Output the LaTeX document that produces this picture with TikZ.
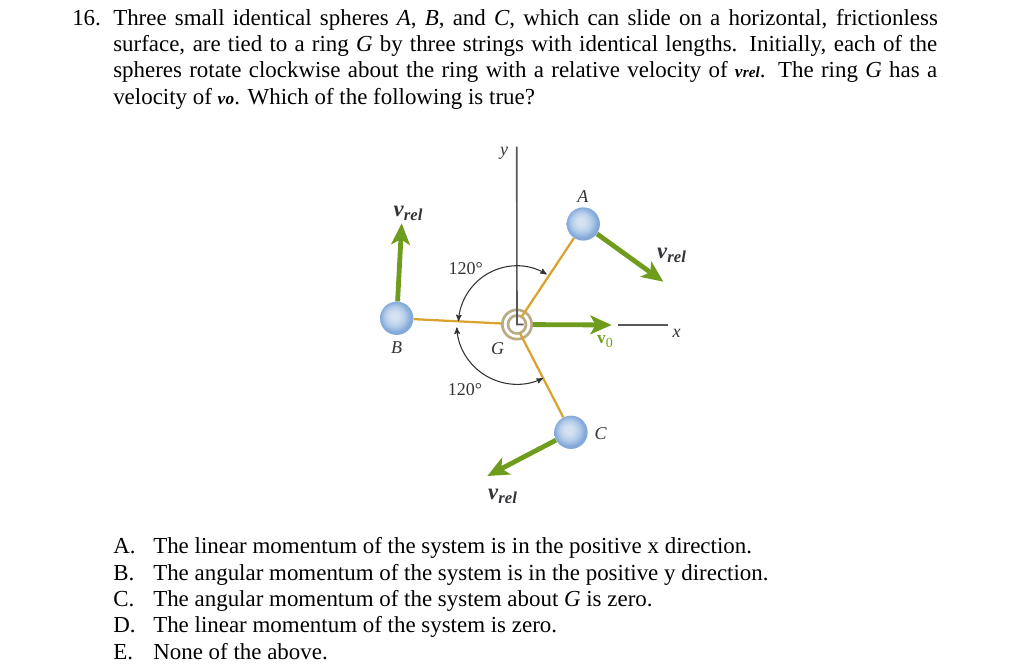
\documentclass[tikz,border=0pt]{standalone}
\usepackage{fontspec}
\setmainfont{Liberation Serif}
\usetikzlibrary{arrows, arrows.meta, positioning}
\definecolor{arrowgreen}{HTML}{6F9C1C}
\definecolor{stringgold}{HTML}{D9A32E}
\definecolor{ringtan}{HTML}{B9AB84}
\definecolor{axisgray}{HTML}{55555C}
\definecolor{labelgray}{HTML}{333338}
\definecolor{ballhi}{HTML}{D3E1F1}
\definecolor{ballmid}{HTML}{B4CCE9}
\definecolor{balledge}{HTML}{82A9DA}
\pgfdeclareradialshading{sphereball}{\pgfpoint{-4bp}{4bp}}{
	color(0bp)=(ballhi);
	color(6bp)=(ballhi);
	color(15bp)=(ballmid);
	color(23bp)=(balledge);
	color(50bp)=(balledge)}
\newcommand{\qfont}{\fontsize{17.2pt}{20pt}\selectfont}
\newcommand{\vrelinline}{{\bfseries\itshape\fontsize{13pt}{14pt}\selectfont v\kern.2pt{\fontsize{11.5pt}{14pt}\selectfont rel}}}
\newcommand{\vrel}{\textbf{\textit{v}}\raisebox{-3pt}{\fontsize{12.5pt}{14pt}\selectfont\textbf{\textit{rel}}}}

\begin{document}
\begin{tikzpicture}[
				x=0.75pt, y=-0.75pt,
				qline/.style={anchor=base west, inner sep=0pt, font=\qfont},
				sphere/.style={circle, inner sep=0pt, minimum size=25pt, shading=sphereball},
				ring/.style={circle, draw=ringtan, line width=2pt, fill=white, inner sep=0pt},
				lbl/.style={inner sep=0pt, text=labelgray, font=\fontsize{13.5pt}{15pt}\selectfont},
				vlbl/.style={inner sep=0pt, text=labelgray, font=\fontsize{17pt}{18pt}\selectfont},
				strg/.style={stringgold, line width=1.7pt},
				axis/.style={axisgray, line width=1.2pt},
				vel/.style={arrowgreen, line width=3.6pt, -{Stealth[length=16pt, width=14pt, inset=4pt]}},
				angle/.style={black!80, line width=0.8pt, <->, >=stealth'}]
			
			\useasboundingbox (0,0) rectangle (1024,670);
			
			% question
			\node[qline] (qnum) at (72,26) {16.};
			\node[qline] (q1) at (113,26) {\hbox to 618.5pt{Three small identical spheres \textit{A}, \textit{B}, and \textit{C}, which can slide on a horizontal, frictionless}};
			\node[qline] (q2) at (113,52) {\hbox to 618pt{surface, are tied to a ring \textit{G} by three strings with identical lengths. Initially, each of the}};
			\node[qline] (q3) at (113,78) {\hbox to 618pt{spheres rotate clockwise about the ring with a relative velocity of \vrelinline. The ring \textit{G} has a}};
			\node[qline] (q4) at (113,104.5) {velocity of {\bfseries\itshape\fontsize{13pt}{14pt}\selectfont v\kern.2pt o}. Which of the following is true?};
			
			% answers
			\node[qline] (a1) at (113,553.5) {A.};
			\node[qline] (a2) at (113,580) {B.};
			\node[qline] (a3) at (113,606.5) {C.};
			\node[qline] (a4) at (113,632.5) {D.};
			\node[qline] (a5) at (113,659) {E.};
			\node[qline] (t1) at (153,553.5) {The linear momentum of the system is in the positive x direction.};
			\node[qline] (t2) at (153,580) {The angular momentum of the system is in the positive y direction.};
			\node[qline] (t3) at (153,606.5) {The angular momentum of the system about \textit{G} is zero.};
			\node[qline] (t4) at (153,632.5) {The linear momentum of the system is zero.};
			\node[qline] (t5) at (153,659) {None of the above.};
			
			% ring, spheres
			\node[ring, minimum size=22pt] (ringG) at (517,324.5) {};
			\node[ring, minimum size=13.5pt] (ringin) at (517,324.5) {};
			\node[sphere] (sphereA) at (583.3,224) {};
			\node[sphere] (sphereB) at (396.7,318.3) {};
			\node[sphere] (sphereC) at (571,432.3) {};
			
			\coordinate (ytop) at (516.7,146.7);
			\coordinate (xstart) at (618.3,325);
			\coordinate (xend) at (668.3,325);
			\coordinate (tick) at (523.5,324.5);
			\coordinate (endA) at (521.7,316.7);
			\coordinate (endB) at (501.7,323.5);
			\coordinate (endC) at (520,333.3);
			\coordinate (tipA) at (663.3,281.7);
			\coordinate (tipB) at (401.7,223.3);
			\coordinate (tipC) at (487.3,476);
			\coordinate (tipG) at (611.7,325);
			\coordinate (arcAstart) at (546.7,274.3);
			\coordinate (arcCstart) at (456.8,327.4);
			
			\draw[axis] (ytop) -- (ringG.center) -- (tick);
			\draw[axis] (xstart) -- (xend);
			
			\draw[strg] (sphereA) -- (endA);
			\draw[strg] (sphereB) -- (endB);
			\draw[strg] (sphereC) -- (endC);
			
			\draw[vel] (sphereA) -- (tipA);
			\draw[vel] (sphereB) -- (tipB);
			\draw[vel] (sphereC) -- (tipC);
			\draw[vel] (ringG) -- (tipG);
			
			\draw[angle] (arcAstart) arc[start angle=59, end angle=177, radius=43.7pt];
			\draw[angle] (arcCstart) arc[start angle=183, end angle=296, radius=45pt];
			
			% labels
			\node[lbl] (lblA) at (583,197) {\textit{A}};
			\node[lbl] (lblB) at (396.7,348) {\textit{B}};
			\node[lbl] (lblC) at (600.7,434) {\textit{C}};
			\node[lbl] (lblG) at (497.7,349) {\textit{G}};
			\node[lbl] (lblx) at (676.7,333) {\textit{x}};
			\node[lbl] (lbly) at (504,153) {\textit{y}};
			\node[lbl] (deg1) at (465.7,268.3) {120°};
			\node[lbl] (deg2) at (465,389.3) {120°};
			\node[vlbl] (vrelA) at (671.5,255) {\vrel};
			\node[vlbl] (vrelB) at (408,213) {\vrel};
			\node[vlbl] (vrelC) at (502.5,496) {\vrel};
			\node[inner sep=0pt, text=arrowgreen, font=\fontsize{13pt}{14pt}\selectfont] (lblv) at (605,341.5) {\textbf{v}\raisebox{-2.5pt}{\fontsize{10.5pt}{12pt}\selectfont 0}};
			
		\end{tikzpicture}
\end{document}
